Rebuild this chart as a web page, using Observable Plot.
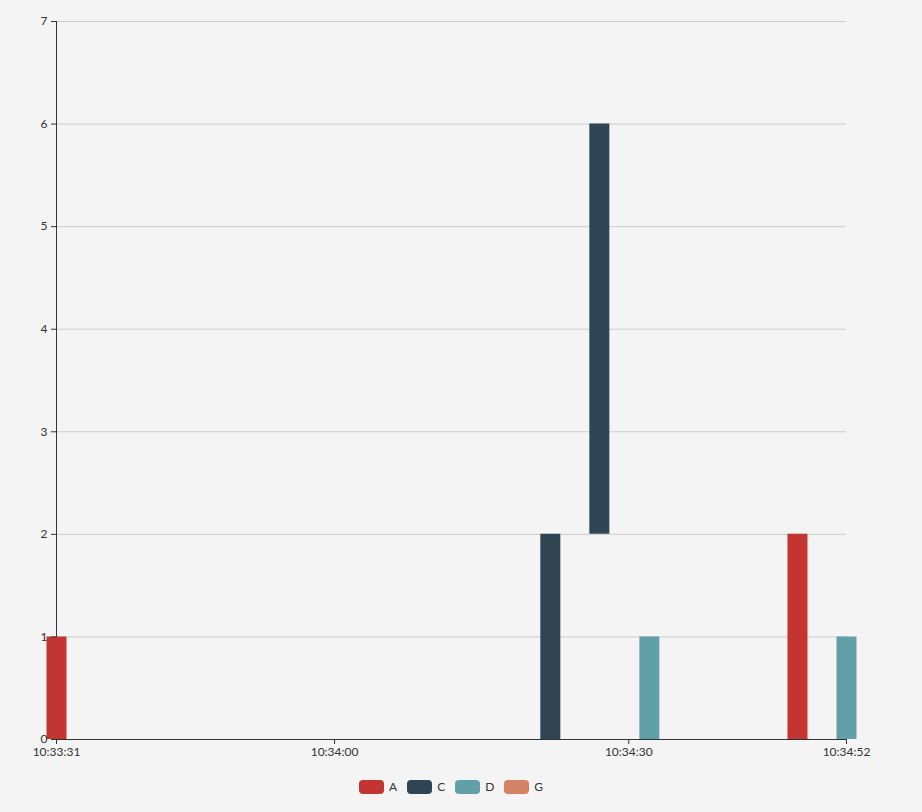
<!DOCTYPE html>
<html>
<head>
<meta charset="utf-8">
<script src="https://cdn.jsdelivr.net/npm/d3@7"></script>
<script src="https://cdn.jsdelivr.net/npm/@observablehq/plot@0.6"></script>
<style>
  html, body { margin: 0; padding: 0; background: #f4f4f4; width: 922px; height: 812px; overflow: hidden; }
  #chart { position: absolute; left: 0; top: 0; }
  #legend { position: absolute; left: 359px; top: 779px; display: flex; align-items: center; font-family: Lato, sans-serif; font-size: 12px; color: #333; }
  .item { display: flex; align-items: center; margin-right: 10px; }
  .sw { width: 25px; height: 14px; border-radius: 4px; margin-right: 5px; display: inline-block; }
</style>
</head>
<body>
<div id="chart"></div>
<div id="legend"></div>
<script>
// Data
const series = ["A", "C", "D", "G"];
const colors = ["#c23531", "#2f4554", "#61a0a8", "#d48265"];
const barTimes = ["10:33:31.65", "10:34:22.0", "10:34:27.0", "10:34:32.1", "10:34:47.2", "10:34:52.2"];
const barSeries = ["A", "C", "C", "D", "A", "D"];
const barBase = [0, 0, 2, 0, 0, 0];
const barTop = [1, 2, 6, 1, 2, 1];
const xTickTimes = ["10:34:00", "10:34:30"];
const yTicks = [0, 1, 2, 3, 4, 5, 6, 7];

const parseT = s => new Date("2024-01-01T" + s + "Z");
const bars = barTimes.map((t, i) => ({t: parseT(t), series: barSeries[i], base: barBase[i], top: barTop[i]}));
const tmin = d3.min(bars, d => d.t);
const tmax = d3.max(bars, d => d.t);
const xTicks = [tmin, ...xTickTimes.map(parseT), tmax];

const chart = Plot.plot({
  width: 922,
  height: 770,
  marginLeft: 56,
  marginRight: 76,
  marginTop: 21,
  marginBottom: 31,
  style: {background: "transparent", fontFamily: "Lato, sans-serif", fontSize: "12px", color: "#333"},
  x: {type: "utc", domain: [tmin, tmax]},
  y: {domain: [0, 7]},
  color: {domain: series, range: colors},
  marks: [
    Plot.ruleY(yTicks.filter(d => d > 0), {stroke: "#ccc", strokeWidth: 1}),
    Plot.ruleX([tmin], {stroke: "#333", strokeWidth: 1}),
    Plot.ruleY([0], {stroke: "#333", strokeWidth: 1}),
    Plot.ruleX(bars, {x: "t", y1: "base", y2: "top", stroke: "series", strokeWidth: 20}),
    Plot.axisX({ticks: xTicks, tickFormat: d3.utcFormat("%H:%M:%S"), tickSize: 5, tickPadding: 3, label: null, stroke: "#333", fill: "#333"}),
    Plot.axisY({ticks: yTicks, tickFormat: d3.format("d"), tickSize: 5, tickPadding: 4, label: null, stroke: "#333", fill: "#333"})
  ]
});
document.getElementById("chart").appendChild(chart);

const legend = document.getElementById("legend");
series.forEach((s, i) => {
  const item = document.createElement("div");
  item.className = "item";
  const sw = document.createElement("span");
  sw.className = "sw";
  sw.style.background = colors[i];
  const lab = document.createElement("span");
  lab.textContent = s;
  item.appendChild(sw);
  item.appendChild(lab);
  legend.appendChild(item);
});
</script>
</body>
</html>
